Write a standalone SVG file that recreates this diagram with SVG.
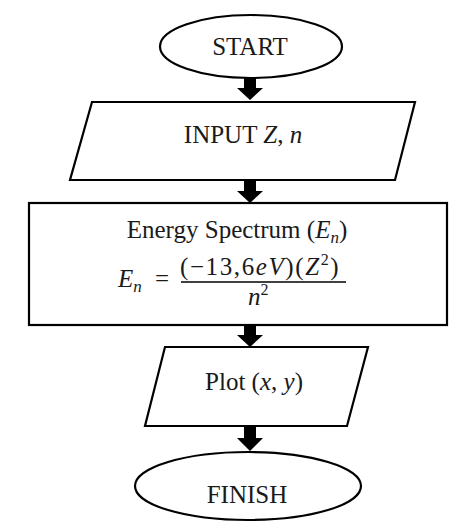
<svg xmlns="http://www.w3.org/2000/svg" width="474" height="523" viewBox="0 0 474 523">
<style>
.shape{fill:#fff;stroke:#000;stroke-width:2.2}
.t{font-family:"Liberation Serif","Times New Roman",serif;font-size:25px;fill:#1a1a1a}
.c{text-anchor:middle}
.i{font-style:italic}
.arrow{fill:#000;stroke:none}
</style>
<rect width="474" height="523" fill="#fff"/>
<g id="connectors">
<polygon class="arrow" points="244,78 256,78 256,88 263,88 250,100 237,88 244,88"/>
<polygon class="arrow" points="244,180 256,180 256,191 263,191 250,203 237,191 244,191"/>
<polygon class="arrow" points="244,325 256,325 256,335 263,335 250,347 237,335 244,335"/>
<polygon class="arrow" points="244,426 256,426 256,438 263,438 250,451 237,438 244,438"/>
</g>
<g id="start">
<ellipse class="shape" cx="251" cy="46.5" rx="91" ry="31.5"/>
<text class="t c" x="250" y="55">START</text>
</g>
<g id="input">
<polygon class="shape" points="92,102 415,102 395,180 70,180"/>
<text class="t c" x="243" y="143">INPUT <tspan class="i">Z</tspan>, <tspan class="i">n</tspan></text>
</g>
<g id="energy">
<rect class="shape" x="29" y="203" width="418" height="122"/>
<text class="t c" x="237" y="238">Energy Spectrum (<tspan class="i">E</tspan><tspan class="i" font-size="17" dy="5">n</tspan><tspan dy="-5">)</tspan></text>
<text class="t" x="118" y="287"><tspan class="i">E</tspan><tspan class="i" font-size="17" dy="5">n</tspan></text>
<text class="t" x="155" y="287">=</text>
<text class="t" x="180" y="275" letter-spacing="1.6">(−13,6<tspan class="i">eV</tspan>)(<tspan class="i">Z</tspan><tspan font-size="16" dy="-10">2</tspan><tspan dy="10">)</tspan></text>
<line x1="181" y1="282" x2="346" y2="282" stroke="#000" stroke-width="1.3"/>
<text class="t" x="248" y="305"><tspan class="i">n</tspan><tspan font-size="16" dy="-10">2</tspan></text>
</g>
<g id="plot">
<polygon class="shape" points="165,347 368,347 347,426 145,426"/>
<text class="t c" x="254" y="390">Plot (<tspan class="i">x</tspan>, <tspan class="i">y</tspan>)</text>
</g>
<g id="finish">
<ellipse class="shape" cx="248" cy="486" rx="113" ry="34"/>
<text class="t c" x="247" y="503">FINISH</text>
</g>
</svg>
